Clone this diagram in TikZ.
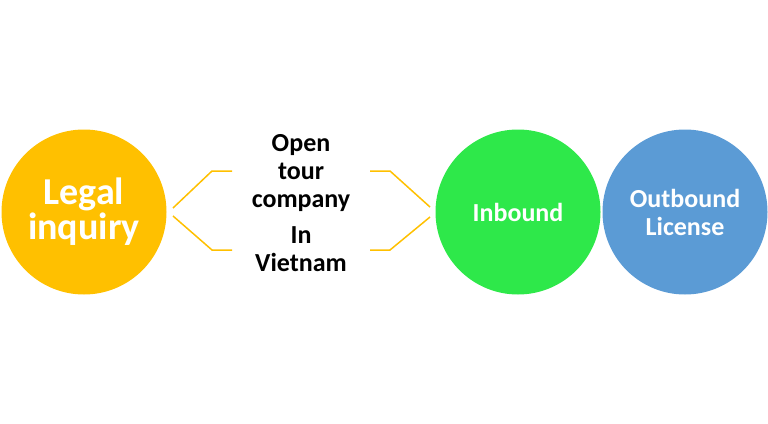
\documentclass[tikz,border=0pt]{standalone}
\usepackage{fontspec}
\setmainfont{Carlito}
\definecolor{legalyellow}{HTML}{FFC000}
\definecolor{inboundgreen}{HTML}{2EE84A}
\definecolor{outblue}{HTML}{5B9BD5}
\tikzset{
  bubble/.style={circle, minimum size=165pt, inner sep=0pt, text=white, align=center, font=\bfseries\fontsize{26}{28}\selectfont},
  bracketline/.style={draw=legalyellow, line width=1.5pt, line join=miter}
}
\begin{document}
\begin{tikzpicture}[x=1pt,y=-1pt]
\useasboundingbox (0,0) rectangle (768,423);
\node[bubble, fill=legalyellow, font=\bfseries\fontsize{38}{35}\selectfont] (legal) at (84,212) {Legal\\inquiry};
\node[bubble, fill=inboundgreen] (inbound) at (518,212) {Inbound};
\node[bubble, fill=outblue] (outbound) at (685,212) {Outbound\\License};
\node[inner sep=0pt, align=center, font=\bfseries\fontsize{26}{28}\selectfont] (mid) at (301,203) {Open\\tour\\company\\[8pt]In\\Vietnam};
% left bracket
\coordinate (la) at (173,208);
\coordinate (lb) at (212,171);
\coordinate (lc) at (232,171);
\coordinate (ld) at (173,216);
\coordinate (le) at (212,250);
\coordinate (lf) at (232,250);
\draw[bracketline] (lc) -- (lb) -- (la);
\draw[bracketline] (ld) -- (le) -- (lf);
% right bracket
\coordinate (ra) at (370,171);
\coordinate (rb) at (390,171);
\coordinate (rc) at (430,207);
\coordinate (rd) at (370,250);
\coordinate (re) at (390,250);
\coordinate (rf) at (430,217);
\draw[bracketline] (ra) -- (rb) -- (rc);
\draw[bracketline] (rd) -- (re) -- (rf);
\end{tikzpicture}
\end{document}
